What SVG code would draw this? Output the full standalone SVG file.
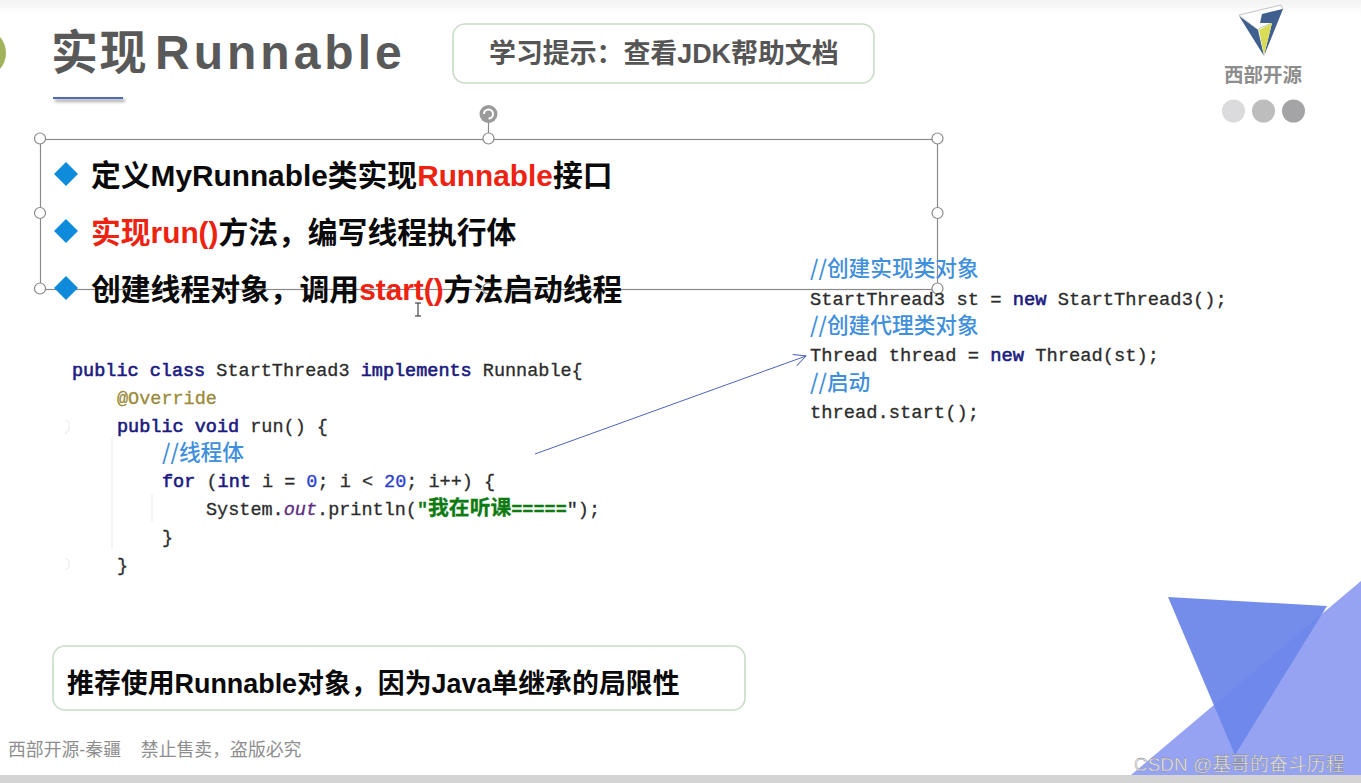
<svg xmlns="http://www.w3.org/2000/svg" width="1361" height="783" viewBox="0 0 1361 783">
<defs>
<linearGradient id="topfade" x1="0" y1="0" x2="0" y2="1"><stop offset="0" stop-color="#f3f3f3"/><stop offset="1" stop-color="#ffffff"/></linearGradient>
<marker id="arrow" markerUnits="userSpaceOnUse" markerWidth="16" markerHeight="16" refX="13" refY="7" orient="auto"><path d="M1 1 L13 7 L1 13" fill="none" stroke="#4f63b8" stroke-width="1"/></marker>
<filter id="soft" x="-10%" y="-200%" width="120%" height="500%"><feGaussianBlur stdDeviation="1.5"/></filter>
</defs>
<style>
text{font-family:"Liberation Sans","Noto Sans CJK SC",sans-serif;white-space:pre}
.b{font-weight:700;font-size:29.8px;fill:#0a0a0a}
.r{fill:#ee2211}
.code{font-family:"Liberation Mono","Noto Sans CJK SC",monospace;font-size:18.5px;fill:#2c2c2c;stroke:#2c2c2c;stroke-width:.3}
.code2{font-size:18.78px}
.k{fill:#1a1a80;stroke:#1a1a80;stroke-width:.6}
.c{fill:#3f8fdc;stroke:none;font-family:"Noto Sans CJK SC","Liberation Mono",monospace;font-size:21.7px;font-weight:500}
.box{fill:#fff;stroke:#c9dcc6;stroke-width:1.6}
.h{fill:#fff;stroke:#8a8a8a;stroke-width:1.2}
.g{stroke:#ececec;stroke-width:1.2;fill:none}
</style>
<rect width="1361" height="783" fill="#fff"/>
<rect width="1361" height="15" fill="url(#topfade)"/>
<rect y="775" width="1361" height="8" fill="#d4d4d4"/>

<g id="decor">
<circle cx="-18" cy="53" r="24" fill="#a0b35a"/>
<polygon points="1361,581 1361,775 1131,775" fill="#96a3f2"/>
<polygon points="1168,597 1327,606 1235,755" fill="#6d87ea" fill-opacity=".95"/>
</g>

<g id="title">
<text x="51" y="69" font-size="47" font-weight="700" fill="#595959" letter-spacing="1.500">实现<tspan x="155" font-size="48" letter-spacing="4">Runnable</tspan></text>
<rect x="55" y="99" width="70" height="3" fill="#aaa" filter="url(#soft)"/>
<rect x="53" y="97" width="70" height="2" fill="#4f6bb0"/>
</g>

<g id="hint">
<rect class="box" x="453" y="24" width="421" height="59" rx="12"/>
<text x="489" y="63" font-size="26.900" font-weight="700" fill="#555">学习提示：查看JDK帮助文档</text>
</g>

<g id="logo">
<polygon points="1239,15 1281,5 1283,9 1264,16 1262,21 1272,23 1260,28 1258,30" fill="#fff" stroke="#b5b5b5" stroke-width=".8"/>
<polygon points="1239,16 1258,30 1264,56" fill="#3f5f8f"/>
<polygon points="1262,14 1283,9 1264,56 1272,23 1260,23" fill="#3f5f8f"/>
<polygon points="1259,30 1272,23 1264,55" fill="#d9dc55"/>
<text x="1224" y="82" font-size="19.500" font-weight="700" fill="#8d8d8d">西部开源</text>
<circle cx="1233.500" cy="111" r="11.500" fill="#dbdbdd"/>
<circle cx="1263.500" cy="111" r="11.500" fill="#bdbdbd"/>
<circle cx="1293.500" cy="111" r="11.500" fill="#a4a4a6"/>
</g>

<g id="selection">
<rect x="40.500" y="139.500" width="897" height="150" fill="none" stroke="#8a8a8a" stroke-width="1.200"/>
<line x1="488.500" y1="122" x2="488.500" y2="139" stroke="#8a8a8a" stroke-width="1.200"/>
<circle cx="488.500" cy="114" r="9" fill="#9a9a9a"/>
<path d="M484 114 a4.500 4.500 0 1 1 4.500 4.500" fill="none" stroke="#fff" stroke-width="2"/>
<circle class="h" cx="40" cy="138.500" r="5.500"/><circle class="h" cx="488.500" cy="138.500" r="5.500"/><circle class="h" cx="937.500" cy="138.500" r="5.500"/>
<circle class="h" cx="40" cy="213" r="5.500"/><circle class="h" cx="937.500" cy="213" r="5.500"/>
<circle class="h" cx="40" cy="288.500" r="5.500"/><circle class="h" cx="488.500" cy="288.500" r="5.500"/><circle class="h" cx="937.500" cy="288.500" r="5.500"/>
</g>

<g id="bullets">
<path id="d1" d="M66 162 L78 174 L66 186 L54 174Z" fill="#0f8bdb"/>
<path d="M66 219 L78 231 L66 243 L54 231Z" fill="#0f8bdb"/>
<path d="M66 276 L78 288 L66 300 L54 288Z" fill="#0f8bdb"/>
<text class="b" x="91" y="185.500">定义MyRunnable类实现<tspan class="r">Runnable</tspan>接口</text>
<text class="b" x="91" y="242.500"><tspan class="r">实现run()</tspan>方法，编写线程执行体</text>
<text class="b" x="91" y="299.500">创建线程对象，调用<tspan class="r">start()</tspan>方法启动线程</text>
<path d="M415 303h6M418 303v13M415 316h6" stroke="#222" stroke-width="1" fill="none"/>
</g>

<g id="code-left">
<path class="g" d="M65 420 l4 2 v8 l-4 4 M65 558 l4 2 v8 l-4 2 M112 438 V548 M152 494 V522"/>
<text class="code" x="72" y="376"><tspan class="k">public class</tspan> StartThread3 <tspan class="k">implements</tspan> Runnable{</text>
<text class="code" x="117" y="404" style="fill:#9a8a3a;stroke:#9a8a3a">@Override</text>
<text class="code" x="117" y="432"><tspan class="k">public void</tspan> run() {</text>
<text class="code c" x="162" y="460">//线程体</text>
<text class="code" x="162" y="487"><tspan class="k">for</tspan> (<tspan class="k">int</tspan> i = <tspan style="fill:#2a3fd0;stroke:#2a3fd0">0</tspan>; i &lt; <tspan style="fill:#2a3fd0;stroke:#2a3fd0">20</tspan>; i++) {</text>
<text class="code" x="206" y="515">System.<tspan style="fill:#5b2a80;stroke:#5b2a80;font-style:italic">out</tspan>.println(<tspan style="fill:#0d7a12;stroke:#0d7a12;font-weight:700">"<tspan font-size="20.800">我在听课</tspan>=====</tspan>");</text>
<text class="code" x="162" y="543">}</text>
<text class="code" x="117" y="571">}</text>
</g>

<g id="code-right">
<text class="code c" x="810" y="276">//创建实现类对象</text>
<text class="code code2" x="810" y="305">StartThread3 st = <tspan class="k">new</tspan> StartThread3();</text>
<text class="code c" x="810" y="333">//创建代理类对象</text>
<text class="code code2" x="810" y="361">Thread thread = <tspan class="k">new</tspan> Thread(st);</text>
<text class="code c" x="810" y="390">//启动</text>
<text class="code code2" x="810" y="418">thread.start();</text>
</g>

<g id="connectors">
<line x1="535" y1="454" x2="806" y2="356" stroke="#4f63b8" stroke-width="1" marker-end="url(#arrow)"/>
</g>

<g id="note">
<rect class="box" x="53" y="646" width="692" height="64" rx="12"/>
<text x="67" y="693" font-size="26.900" font-weight="700" fill="#0a0a0a">推荐使用Runnable对象，因为Java单继承的局限性</text>
</g>

<g id="footer">
<text x="8" y="756" font-size="17.850" fill="#8e8e8e">西部开源-秦疆    禁止售卖，盗版必究</text>
<text x="1134" y="771" font-size="18.950" fill="#e4e4e4" stroke="#7a7a7a" stroke-width=".3">CSDN @基哥的奋斗历程</text>
</g>
</svg>
